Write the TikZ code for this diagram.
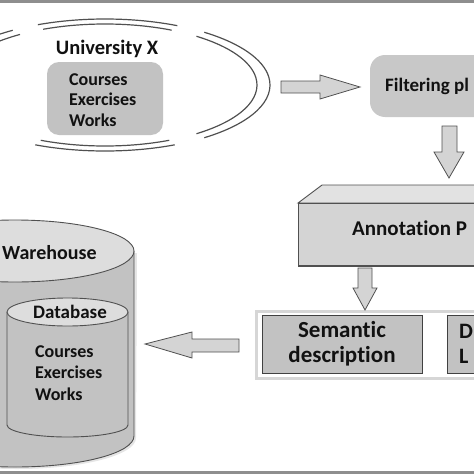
\documentclass[tikz,border=0pt]{standalone}
\usepackage{fontspec}
\setmainfont{Carlito}[Ligatures=NoCommon]
\usetikzlibrary{positioning,shapes}

\definecolor{bargray}{HTML}{8E8E8E}
\definecolor{linegray}{HTML}{505050}
\definecolor{boxgray}{HTML}{C2C2C2}
\definecolor{lightbox}{HTML}{D4D4D4}
\definecolor{topgray}{HTML}{E2E2E2}
\definecolor{framegray}{HTML}{D6D6D6}
\definecolor{txtgray}{HTML}{111111}

\begin{document}
\begin{tikzpicture}[x=1pt,y=1pt,
  txt/.style={inner sep=0pt,text=txtgray,align=left},
  blockarrow/.style={draw=linegray,fill=lightbox,line width=0.8pt,line join=miter},
  ring/.style={draw=linegray,line width=1.2pt},
  cylbody/.style={draw=linegray,fill=boxgray,line width=0.9pt},
  cyltop/.style={draw=linegray,fill=topgray!85!boxgray,line width=0.9pt}]

\useasboundingbox (0,0) rectangle (474,-474);
\clip (0,0) rectangle (474,-474);

% frame bars
\fill[bargray] (0,0) rectangle (474,-3);
\fill[bargray] (0,-471) rectangle (474,-474);

% university ring
\foreach \a/\b in {64/114,-53/53,245/295,124/142}
{
  \draw[ring] (105,-85) ++(\a:165 and 66) arc[start angle=\a,end angle=\b,x radius=165,y radius=66];
  \draw[ring] (105,-85) ++(\a:152 and 61) arc[start angle=\a,end angle=\b,x radius=152,y radius=61];
}
\node[txt,font=\bfseries\fontsize{20.5}{24}\selectfont] (univ) at (107,-49) {University X};
\fill[boxgray,rounded corners=12pt] (47,-62) rectangle (163,-135);
\node[txt,anchor=west,font=\bfseries\fontsize{18}{20.5}\selectfont] (unilist) at (69,-100) {Courses\\Exercises\\Works};

% filtering
\fill[boxgray!90!white,rounded corners=15pt] (370,-55) rectangle (500,-117);
\node[txt,anchor=west,font=\bfseries\fontsize{19}{22}\selectfont] (filter) at (385,-86) {Filtering pl};

% annotation block
\filldraw[draw=linegray,fill=topgray,line width=0.9pt] (298,-203) -- (322,-185) -- (480,-185) -- (480,-203) -- cycle;
\filldraw[draw=linegray,fill=lightbox,line width=0.9pt] (298,-203) rectangle (480,-266);
\draw[linegray,line width=1.6pt] (298,-266) -- (480,-266);
\node[txt,anchor=west,font=\bfseries\fontsize{21}{25}\selectfont] (annot) at (352,-228) {Annotation P};

% output frame
\draw[framegray,line width=3pt] (256,-311) rectangle (490,-378);
\node[txt,draw=txtgray!80,fill=boxgray,line width=0.9pt,minimum width=160pt,minimum height=58pt,align=center,
  font=\bfseries\fontsize{23}{25}\selectfont] (semantic) at (342,-344) {Semantic\\description};
\filldraw[draw=txtgray!80,fill=boxgray,line width=0.9pt] (447,-315) rectangle (495,-373);
\node[txt,anchor=west,font=\bfseries\fontsize{22}{25}\selectfont] (dl) at (459,-344) {D\\L};

% block arrows
\draw[blockarrow] (281,-81) -- (320,-81) -- (320,-75) -- (360,-87) -- (320,-99) -- (320,-93) -- (281,-93) -- cycle;
\draw[blockarrow] (442,-126) -- (442,-152) -- (434,-152) -- (449,-178) -- (464,-152) -- (457,-152) -- (457,-126) -- cycle;
\draw[blockarrow] (358,-268) -- (358,-288) -- (353,-288) -- (365,-310) -- (377,-288) -- (372,-288) -- (372,-268) -- cycle;
\draw[blockarrow] (239,-339) -- (192,-339) -- (192,-332) -- (145,-344) -- (192,-358) -- (192,-352) -- (239,-352) -- cycle;

% warehouse cylinder
\fill[gray!20] (-102,-253) -- (-102,-438) arc[start angle=180,end angle=360,x radius=119,y radius=31] -- (137,-253) -- cycle;
\draw[cylbody] (-104,-251) -- (-104,-436) arc[start angle=180,end angle=360,x radius=119,y radius=31] -- (134,-251);
\draw[cyltop] (15,-251) ellipse[x radius=119,y radius=31];
\node[txt,anchor=west,font=\bfseries\fontsize{20}{22}\selectfont] (warehouse) at (2,-253) {Warehouse};

% database cylinder
\draw[cylbody] (7,-312) -- (7,-425) arc[start angle=180,end angle=360,x radius=60.5,y radius=12] -- (128,-312);
\draw[cyltop] (67.5,-312) ellipse[x radius=60.5,y radius=14];
\node[txt,font=\bfseries\fontsize{19}{20}\selectfont] (database) at (70,-312) {Database};
\node[txt,anchor=west,font=\bfseries\fontsize{18}{21.5}\selectfont] (dblist) at (35,-373) {Courses\\Exercises\\Works};

\end{tikzpicture}
\end{document}
